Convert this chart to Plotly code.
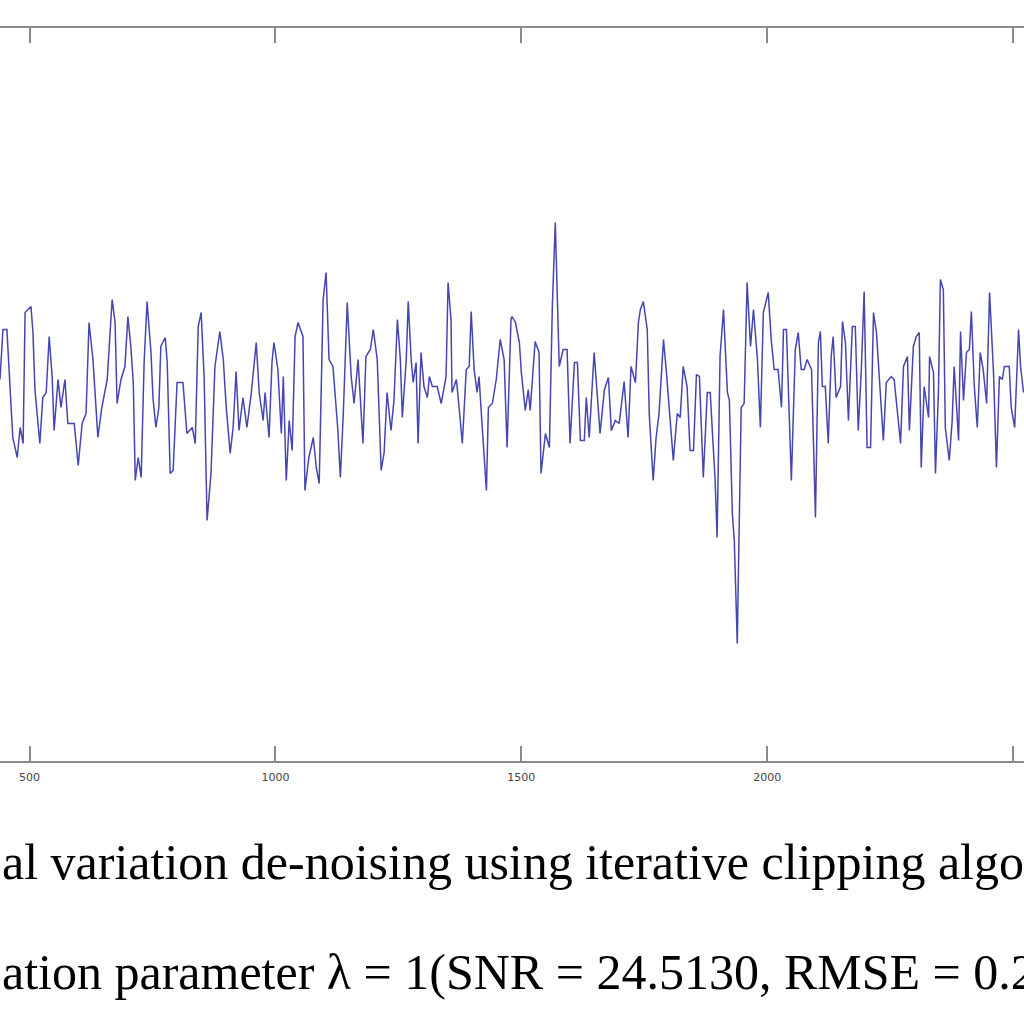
import plotly.graph_objects as go

# de-noised signal (sample index, amplitude)
sample_idx = [
    440, 446, 454, 460, 466, 475, 481, 487, 491, 503, 507, 511, 521, 527, 534, 540, 546, 550, 558, 564,
    572, 578, 591, 599, 607, 615, 621, 629, 639, 647, 658, 668, 674, 678, 686, 694, 700,
    706, 711, 715, 721, 727, 733, 739, 747, 751, 757, 763, 767, 776, 780, 786, 792, 800, 812, 820,
    831, 837, 843, 849, 855, 861, 869, 877, 887, 894, 900, 908, 914, 920, 926, 934, 942, 951, 959,
    961, 967, 975, 979, 987, 993, 997, 1005, 1012, 1016, 1022, 1028, 1034, 1040, 1046, 1056, 1060,
    1068, 1077, 1083, 1089, 1097, 1103, 1109, 1117, 1127, 1132, 1138, 1146, 1154, 1160, 1168, 1178,
    1184, 1193, 1199, 1207, 1215, 1221,
    1227, 1235, 1241, 1248, 1254, 1258, 1266, 1270, 1276, 1280, 1286, 1290, 1296, 1302, 1309, 1313,
    1319, 1329, 1337, 1347, 1351, 1357, 1359, 1368, 1374, 1380, 1388, 1394, 1398, 1404, 1410, 1414,
    1420, 1429, 1433, 1441, 1449, 1457, 1465, 1471, 1479,
    1481, 1488, 1496, 1500, 1508, 1514, 1518, 1528, 1536, 1540, 1549, 1557, 1563, 1569, 1577, 1585,
    1593, 1599, 1608, 1614, 1620, 1628, 1632, 1638, 1648, 1654, 1660, 1669, 1677, 1683, 1691, 1699,
    1709, 1717, 1723, 1732, 1738, 1742,
    1748, 1756, 1760, 1768, 1774, 1780, 1789, 1795, 1801, 1809, 1817, 1823, 1829, 1837, 1843, 1850,
    1856, 1862, 1870, 1878, 1884, 1888, 1894, 1898, 1904, 1911, 1915, 1919, 1923, 1929, 1933, 1939,
    1943, 1947, 1953, 1959, 1966, 1972, 1980, 1986, 1992, 2000,
    2002, 2008, 2014, 2022, 2029, 2033, 2039, 2049, 2057, 2063, 2069, 2075, 2081, 2090, 2098, 2104,
    2108, 2112, 2118, 2124, 2130, 2134, 2140, 2149, 2153, 2159, 2165, 2173, 2179, 2185, 2191, 2197,
    2203, 2210, 2216, 2222, 2228, 2236, 2242, 2252, 2258, 2262,
    2271, 2277, 2285, 2289, 2297, 2303, 2309, 2313, 2319, 2328, 2330, 2338, 2342, 2348, 2352, 2358,
    2362, 2370, 2376, 2380, 2389, 2393, 2399, 2405, 2411, 2415, 2421, 2427, 2433, 2439, 2446, 2452,
    2460, 2466, 2472, 2478, 2482, 2492, 2496, 2503, 2511, 2515, 2521,
]
amplitude = [
    0.15, 0.65, 0.65, 0.05, -0.43, -0.63, -0.33, -0.49, 0.82, 0.88, 0.62, 0.05, -0.49, -0.03, 0.02, 0.58, 0.18, -0.36, 0.15, -0.13,
    0.15, -0.29, -0.29, -0.71, -0.29, -0.19, 0.72, 0.35, -0.43, -0.13, 0.15, 0.95, 0.72, -0.09, 0.15, 0.28, 0.78,
    0.48, 0.12, -0.86, -0.63, -0.83, 0.32, 0.93, 0.42, -0.03, -0.33, -0.13, 0.48, 0.57, 0.32, -0.79, -0.76, 0.12, 0.12, -0.39,
    -0.33, -0.49, 0.68, 0.82, 0.18, -1.26, -0.79, 0.28, 0.63, 0.35, -0.13, -0.59, -0.33, 0.23, -0.36, -0.03, -0.33, 0.02, 0.38,
    0.52, 0.02, -0.26, 0.02, -0.43, 0.32, 0.52, 0.25, -0.39, 0.18, -0.86, -0.26, -0.56, 0.58, 0.72, 0.58, -0.96,
    -0.63, -0.43, -0.73, -0.89, 0.95, 1.22, 0.35, 0.28, -0.36, -0.83, -0.19, 0.92, 0.18, -0.09, 0.35, -0.49,
    0.38, 0.45, 0.65, 0.35, -0.76, -0.58,
    0.02, -0.36, -0.06, 0.75, 0.35, -0.23, 0.35, 0.93, 0.35, 0.12, 0.32, -0.49, 0.42, 0.08, -0.03, 0.18,
    0.08, 0.08, -0.09, 0.18, 1.12, 0.75, 0.02, 0.15, -0.16, -0.49, 0.25, 0.28, 0.83, 0.25, 0.02, 0.18,
    -0.29, -0.96, -0.13, -0.09, 0.15, 0.55, 0.35, -0.53, 0.75,
    0.78, 0.72, 0.52, 0.22, -0.16, 0.05, -0.16, 0.53, 0.42, -0.79, -0.39, -0.53, 0.88, 1.72, 0.28, 0.45,
    0.45, -0.49, 0.32, 0.32, -0.46, -0.46, -0.03, -0.43, 0.42, 0.02, -0.39, 0.05, 0.17, -0.36, -0.26, -0.29,
    0.13, -0.43, 0.28, 0.12, 0.72, 0.85,
    0.93, 0.65, -0.19, -0.86, -0.43, -0.19, 0.55, 0.22, -0.19, -0.66, -0.19, -0.23, 0.28, 0.08, -0.56, -0.56,
    0.20, 0.18, -0.83, 0.02, 0.02, -0.36, -0.86, -1.43, 0.38, 0.85, 0.42, 0.02, -0.06, -1.19, -1.46, -2.49,
    -1.29, -0.13, -0.09, 1.12, 0.48, 0.85, 0.35, -0.33, 0.82, 0.98,
    1.02, 0.55, 0.25, 0.25, -0.13, 0.65, 0.65, -0.86, 0.45, 0.62, 0.25, 0.25, 0.35, 0.25, -1.23, 0.52,
    0.63, 0.08, 0.08, -0.49, 0.38, 0.58, -0.03, 0.08, 0.73, 0.52, -0.26, 0.68, 0.68, -0.36, 0.22, 1.03,
    -0.53, -0.53, 0.82, 0.62, 0.18, -0.46, 0.12, 0.18, 0.15, -0.06,
    -0.49, 0.28, 0.38, -0.36, 0.48, 0.58, 0.62, -0.73, 0.08, -0.23, 0.38, 0.22, -0.79, 0.02, 1.15, 1.05,
    -0.33, -0.66, -0.26, 0.28, -0.46, 0.63, -0.06, 0.42, 0.45, 0.83, 0.08, -0.33, 0.42, 0.25, -0.09, 1.02,
    0.22, -0.73, 0.18, 0.15, 0.28, 0.28, -0.13, -0.33, 0.65, 0.28, 0.02,
]
x_ticks = [500, 1000, 1500, 2000, 2500]
caption_1 = "al variation de-noising using iterative clipping algo"
caption_2 = "ation parameter λ = 1(SNR = 24.5130, RMSE = 0.2"

W, H = 1024, 1024
TOP, BOTTOM = 28, 761          # pixel rows of the top / bottom axis lines
AXIS = '#8a8a8a'

fig = go.Figure()
fig.add_trace(go.Scatter(x=sample_idx, y=amplitude, mode='lines',
                         line=dict(color='#4646b0', width=1.5), showlegend=False))

fig.update_xaxes(range=[440, 2522], tickvals=x_ticks, ticks='inside', ticklen=15, tickwidth=1.5,
                 tickcolor=AXIS, showline=True, linecolor=AXIS, linewidth=2, mirror='ticks',
                 showgrid=False, zeroline=False, ticklabelstandoff=5,
                 tickfont=dict(family='DejaVu Sans', size=11, color='#444'))
fig.update_yaxes(range=[-3.665, 3.665], showline=False, showticklabels=False, ticks='',
                 showgrid=False, zeroline=False)

def py(pix):  # pixel row -> paper y
    return (BOTTOM - pix) / (BOTTOM - TOP)

for txt, row in [(caption_1, 862), (caption_2, 972)]:
    fig.add_annotation(text=txt, xref='paper', yref='paper', x=0, y=py(row),
                       xanchor='left', yanchor='middle', showarrow=False,
                       font=dict(family='Liberation Serif', size=50, color='black'))

fig.update_layout(width=W, height=H, margin=dict(l=0, r=0, t=TOP, b=H - BOTTOM),
                  paper_bgcolor='white', plot_bgcolor='white')
fig.write_html("out.html", config={'displayModeBar': False},
               post_script="document.body.style.margin='0px';")
